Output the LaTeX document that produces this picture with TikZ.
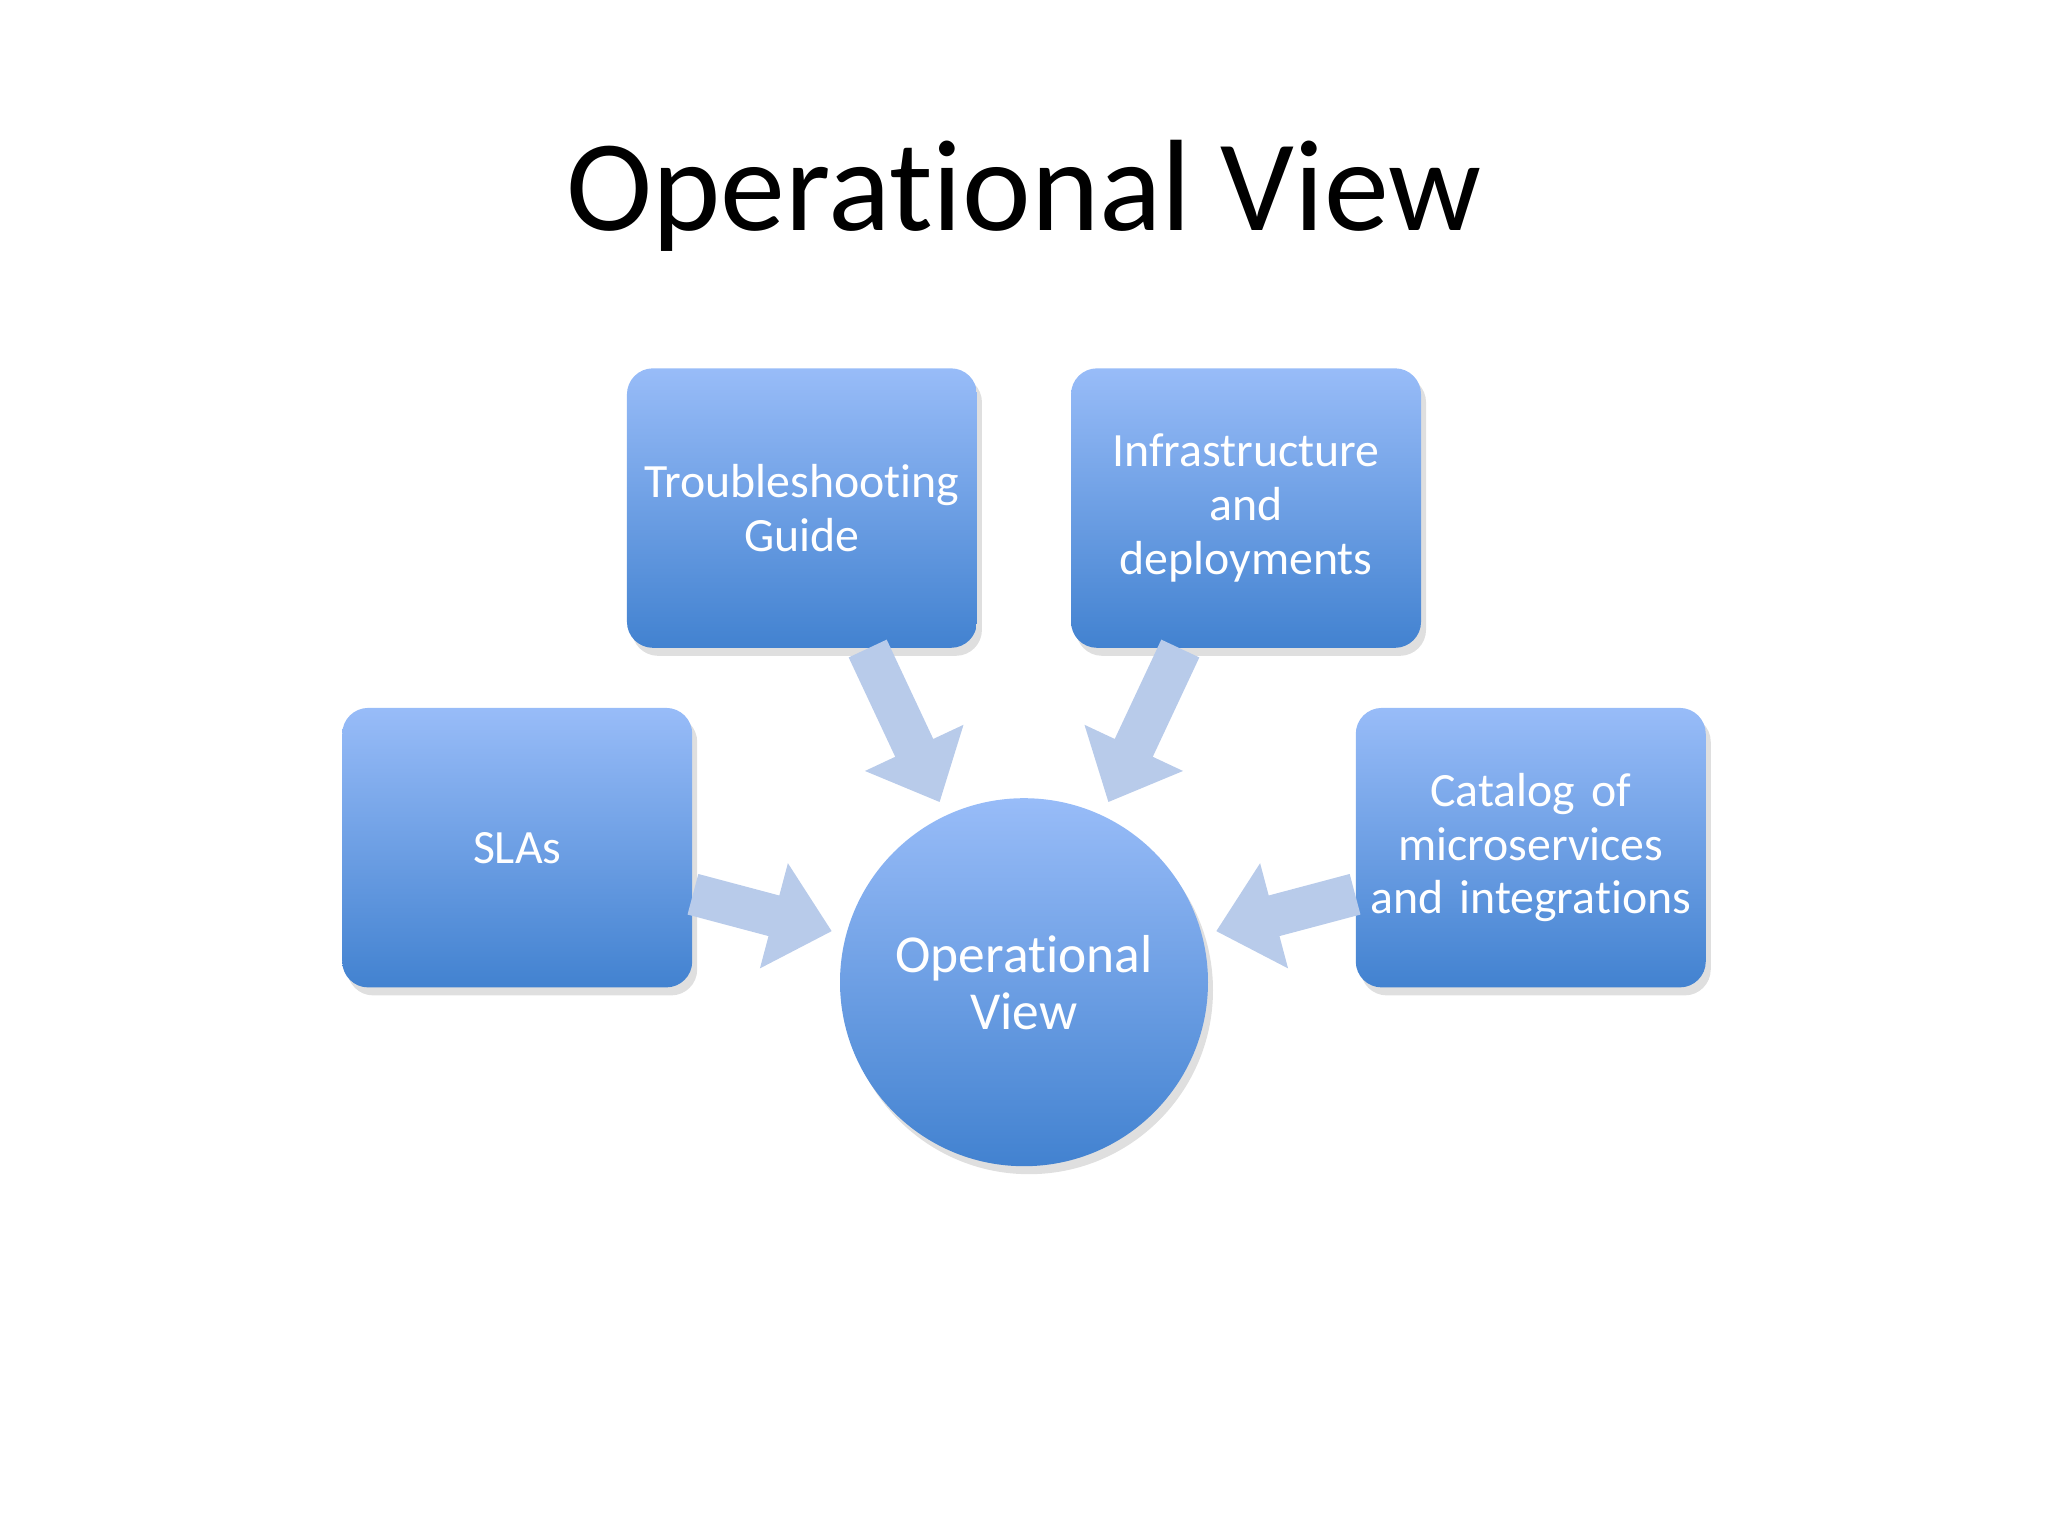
\documentclass[tikz,border=0pt]{standalone}
\usepackage{fontspec}
\setmainfont{Carlito}[Ligatures={NoCommon,NoRare,NoContextual}]
\usetikzlibrary{positioning,shadows,arrows.meta}

\tikzset{
  box/.style={rounded corners=0.26cm, minimum width=3.5cm, minimum height=2.795cm,
    text width=3.3cm, inner sep=0pt,
    top color={rgb,255:red,152;green,188;blue,248}, bottom color={rgb,255:red,66;green,130;blue,208},
    draw=none, text=white, align=center, font=\fontsize{13.6}{15.3}\selectfont,
    drop shadow={opacity=0.25, shadow xshift=0.5mm, shadow yshift=-0.8mm}},
  hub/.style={circle, minimum size=3.68cm, inner sep=0pt, text width=3.3cm,
    top color={rgb,255:red,152;green,188;blue,248}, bottom color={rgb,255:red,66;green,130;blue,208},
    text=white, align=center, font=\fontsize{15.2}{16.2}\selectfont,
    drop shadow={opacity=0.25, shadow xshift=0.5mm, shadow yshift=-0.8mm}},
  fat/.style={draw={rgb,255:red,184;green,203;blue,234}, line width=0.42cm,
    -{Triangle[width=1.05cm,length=0.6cm]}, shorten >=4pt}
}

\begin{document}
\begin{tikzpicture}[x=0.013061cm, y=-0.013061cm]
  \useasboundingbox (0,0) rectangle (1568,1176);
  \node[font=\fontsize{37}{44}\selectfont] (title) at (784,150) {Operational View};
  % arrows into the centre
  \coordinate (c) at (784,752);
  \path (614,389) coordinate (tsc) (954,389) coordinate (infc)
        (396,649) coordinate (slac) (1172,649) coordinate (catc);
  % surrounding boxes
  \node[box] (ts) at (tsc) {Troubleshooting\\Guide};
  \node[box] (infra) at (infc) {Infrastructure\\and\\deployments};
  \node[box] (sla) at (slac) {SLAs};
  \node[box] (cat) at (catc) {Catalog of\\microservices\\and integrations};
  % centre
  \node[hub] (ov) at (c) {Operational\\View};
  \draw[fat] (ts) -- (ov);
  \draw[fat] (infra) -- (ov);
  \draw[fat] (sla) -- (ov);
  \draw[fat] (cat) -- (ov);
\end{tikzpicture}
\end{document}
